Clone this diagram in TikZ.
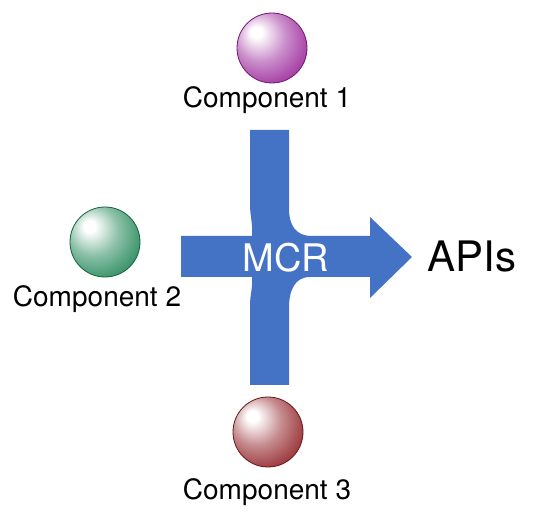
\documentclass[tikz,border=0pt]{standalone}
\usepackage{fontspec}
\setmainfont{TeX Gyre Heros}
\usepackage{tikz}
\usetikzlibrary{calc}

\definecolor{mcrblue}{RGB}{68,114,196}
\definecolor{ballpurple}{RGB}{150,30,150}
\definecolor{ballgreen}{RGB}{25,130,80}
\definecolor{ballred}{RGB}{140,25,30}
\colorlet{ballc}{ballpurple}
\pgfdeclareradialshading[ballc]{softball}{\pgfpoint{-12bp}{12bp}}{%
  color(0bp)=(white); color(4bp)=(white); color(18bp)=(ballc!50!white);
  color(30bp)=(ballc!80!white); color(42bp)=(ballc); color(60bp)=(ballc!75!black)}

\begin{document}
\begin{tikzpicture}[x=1pt,y=-1pt,
  ballcol/.code={\colorlet{ballc}{#1}},
  ball/.style={circle,minimum size=70pt,inner sep=0pt,shading=softball,
    draw=ballc!75!black,line width=0.8pt},
  comp/.style={anchor=base,inner sep=0pt,font=\fontsize{28}{32}\selectfont}]
\useasboundingbox (0,0) rectangle (550,516);
% the merging arrow
  \fill[mcrblue] (181,236) -- (252,236)
     .. controls (253,225) and (250,215) .. (250,205) -- (250,130) -- (289,130) -- (289,208)
     .. controls (289,226) and (296,236) .. (312,236) -- (370,236) -- (370,217) -- (412,257)
     -- (370,298) -- (370,277) -- (310,277)
     .. controls (295,277) and (289,290) .. (289,308) -- (289,385) -- (250,385) -- (250,305)
     .. controls (250,295) and (253,287) .. (252,277) -- (181,277) -- cycle;
   \node[anchor=base,inner sep=0pt,text=white,font=\fontsize{38}{42}\selectfont] (mcr) at (286,272) {MCR};
   \node[anchor=base,inner sep=0pt,font=\fontsize{42}{46}\selectfont] (apis) at (472,272) {APIs};

% components
   \node[ballcol=ballpurple,ball] (c1) at (272,48) {};
   \node[comp] (l1) at (267,108) {Component 1};
   \node[ballcol=ballgreen,ball] (c2) at (105,242) {};
   \node[comp] (l2) at (97,307) {Component 2};
   \node[ballcol=ballred,ball] (c3) at (268,432) {};
   \node[comp] (l3) at (267,500) {Component 3};
\end{tikzpicture}
\end{document}
